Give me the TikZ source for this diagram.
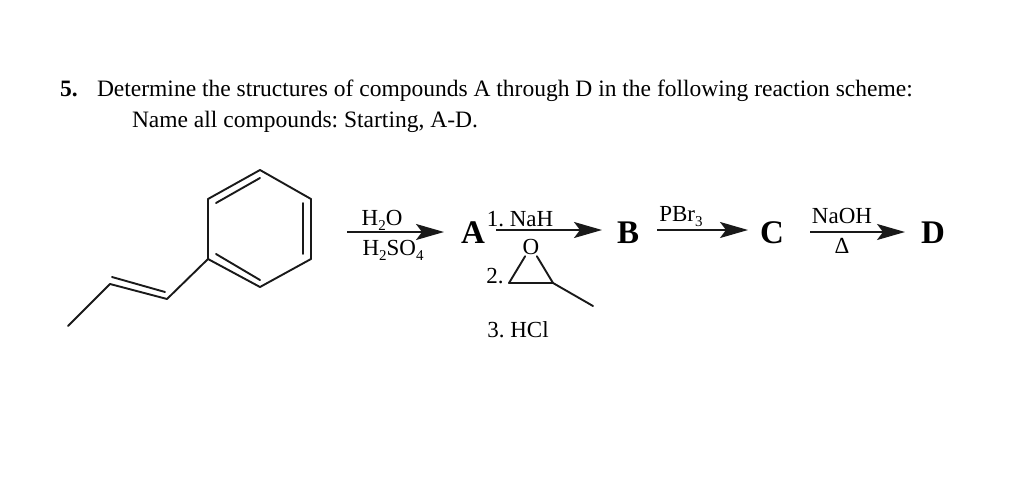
\documentclass[tikz,border=0pt]{standalone}
\usepackage{fontspec}
\setmainfont{Liberation Serif}
\usetikzlibrary{arrows.meta}
\newcommand{\lowsub}[1]{\raisebox{-5pt}{\fontsize{15pt}{15pt}\selectfont #1}}
\tikzset{
  bond/.style={line width=1.9pt,line cap=round,line join=round,black!90},
  rxn/.style={line width=1.9pt,black!90,-{Stealth[length=28pt,width=16pt,inset=6pt]}},
  txt/.style={anchor=base west,inner sep=0pt,outer sep=0pt,font=\fontsize{23.5pt}{26pt}\selectfont\frenchspacing},
  rgt/.style={anchor=base,inner sep=0pt,outer sep=0pt,font=\fontsize{23pt}{26pt}\selectfont\frenchspacing},
  cmpd/.style={anchor=base,inner sep=0pt,outer sep=0pt,font=\fontsize{33pt}{36pt}\selectfont\bfseries}
}
\begin{document}
\begin{tikzpicture}[x=1pt,y=-1pt]
\useasboundingbox (0,0) rectangle (1024,476);
\fill[white] (0,0) rectangle (1024,476);
% heading
\node[txt,font=\fontsize{23.5pt}{26pt}\selectfont\bfseries] (num) at (60,97) {5.};
\node[txt] (l1) at (97,97) {Determine the structures of compounds A through D in the following reaction scheme:};
\node[txt] (l2) at (132,127) {Name all compounds: Starting, A-D.};
% ring
\coordinate (r1) at (260,170);
\coordinate (r2) at (311,199);
\coordinate (r3) at (311,259);
\coordinate (r4) at (260,287);
\coordinate (r5) at (208,259);
\coordinate (r6) at (208,199);
\draw[bond] (r1)--(r2)--(r3)--(r4)--(r5)--(r6)--cycle;
\coordinate (d1a) at (216,203); \coordinate (d1b) at (260,178);
\coordinate (d2a) at (303,203); \coordinate (d2b) at (303,254);
\coordinate (d3a) at (216,254); \coordinate (d3b) at (260,280);
\draw[bond] (d1a)--(d1b) (d2a)--(d2b) (d3a)--(d3b);
% propenyl chain
\coordinate (c1) at (167,299);
\coordinate (c2) at (110,284);
\coordinate (c3) at (68,326);
\coordinate (c4) at (112,277);
\coordinate (c5) at (165,292);
\draw[bond] (r5)--(c1)--(c2)--(c3);
\draw[bond] (c4)--(c5);
% arrows
\coordinate (a1s) at (347,232); \coordinate (a1e) at (444,232);
\coordinate (a2s) at (496,230); \coordinate (a2e) at (602,230);
\coordinate (a3s) at (657,230); \coordinate (a3e) at (748,230);
\coordinate (a4s) at (810,232); \coordinate (a4e) at (905,232);
\draw[rxn] (a1s)--(a1e);
\draw[rxn] (a2s)--(a2e);
\draw[rxn] (a3s)--(a3e);
\draw[rxn] (a4s)--(a4e);
% compounds
\node[cmpd] (A) at (473,243) {A};
\node[cmpd] (B) at (628,243) {B};
\node[cmpd] (C) at (772,243) {C};
\node[cmpd] (D) at (933,243) {D};
% reagents
\node[rgt] (h2o) at (382,225) {H\lowsub{2}O};
\node[rgt] (h2so4) at (393,255) {H\lowsub{2}SO\lowsub{4}};
\node[rgt] (nah) at (520,226) {1. NaH};
\node[rgt] (pbr3) at (681,221) {PBr\lowsub{3}};
\node[rgt] (naoh) at (842,223) {NaOH};
\node[rgt] (delta) at (842,253) {Δ};
\node[rgt] (two) at (495,283) {2.};
\node[rgt] (hcl) at (518,337) {3. HCl};
\node[rgt,outer sep=2pt] (O) at (531,254) {O};
% epoxide
\coordinate (e1) at (509,283);
\coordinate (e2) at (553,283);
\coordinate (e3) at (593,306);
\draw[bond] (O)--(e1)--(e2)--(O);
\draw[bond] (e2)--(e3);
\end{tikzpicture}
\end{document}
